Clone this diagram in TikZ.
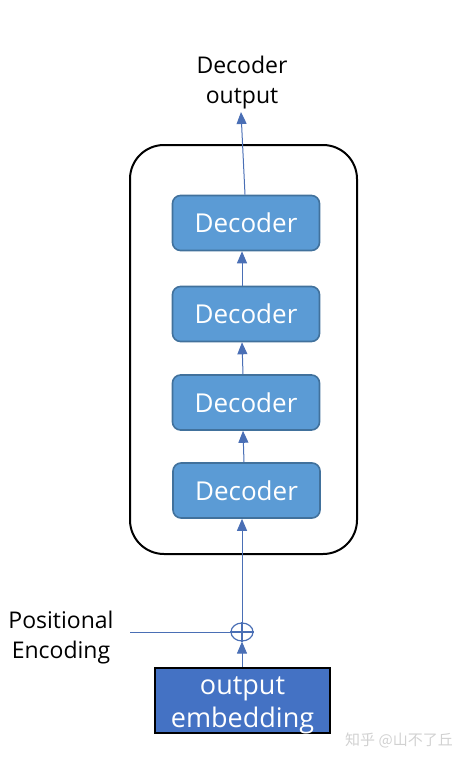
\documentclass[tikz,border=0pt]{standalone}
\usepackage{fontspec}
\setmainfont{Open Sans}
\newfontfamily\cjkfont{Noto Sans CJK SC}
\usepackage{xcolor}
\usetikzlibrary{shapes,arrows.meta,positioning,calc}

\definecolor{decfill}{HTML}{5B9BD5}
\definecolor{decline}{HTML}{41719C}
\definecolor{embfill}{HTML}{4472C4}
\definecolor{linkblue}{HTML}{4A6FB5}

\begin{document}
\begin{tikzpicture}[x=0.5pt, y=-0.5pt,
    decbox/.style={draw=decline, fill=decfill, line width=0.8pt, rounded corners=4pt,
        minimum width=73.5pt, minimum height=27.5pt, inner sep=0pt,
        text=white, font=\fontsize{13}{15}\selectfont},
    flow/.style={draw=linkblue, line width=0.5pt, -{Triangle[width=5pt,length=6pt]}}]
    \useasboundingbox (0,0) rectangle (460,760);

    % stack frame
    \draw[line width=1pt, rounded corners=17pt] (130,145) rectangle (357,554);

    % decoders
    \node[decbox] (dec4) at (246,223) {Decoder};
    \node[decbox] (dec3) at (246,314) {Decoder};
    \node[decbox] (dec2) at (246,402.5) {Decoder};
    \node[decbox] (dec1) at (246.5,490.5) {Decoder};

    % embedding and positional encoding
    \node[draw=black, fill=embfill, line width=1pt, minimum width=87.5pt, minimum height=32.5pt,
        inner sep=0pt] (emb) at (242.5,700.5) {};
    \node[align=center, inner sep=0pt, text=white, font=\fontsize{13.5}{16.5}\selectfont]
        (embtxt) at ([yshift=-2.5pt]emb.center) {output\\embedding};
    \node[ellipse, draw=linkblue, line width=0.6pt, minimum width=11pt, minimum height=9pt,
        inner sep=0pt] (add) at (242,632) {};
    \draw[linkblue, line width=0.6pt] (add.west) -- (add.east) (add.north) -- (add.south);
    \node[align=center, font=\fontsize{11.5}{15}\selectfont] (pos) at (61,638) {Positional\\Encoding};
    \coordinate (posin) at (130,632);
    \draw[linkblue, line width=0.5pt] (posin) -- (add.west);

    % output label
    \node[align=center, font=\fontsize{11.5}{15}\selectfont] (outlbl) at (242,83) {Decoder\\output};
    \coordinate (outtip) at (241,112);

    % arrows
    \draw[flow] (emb.north -| add) -- (add.south);
    \draw[flow] (add.north) -- (add.north |- dec1.south);
    \draw[flow] ([xshift=1pt]dec1.north -| add) -- ([xshift=0.5pt]dec2.south -| add);
    \draw[flow] ([xshift=0.5pt]dec2.north -| add) -- (dec3.south -| add);
    \draw[flow] (dec3.north -| add) -- (dec4.south -| add);
    \draw[flow] ([xshift=1.5pt]dec4.north -| add) -- (outtip);

    % watermark
    \node[text=black!18, font=\cjkfont\fontsize{7.5}{9}\selectfont] (mark) at (399,740) {知乎 @山不了丘};
\end{tikzpicture}
\end{document}
